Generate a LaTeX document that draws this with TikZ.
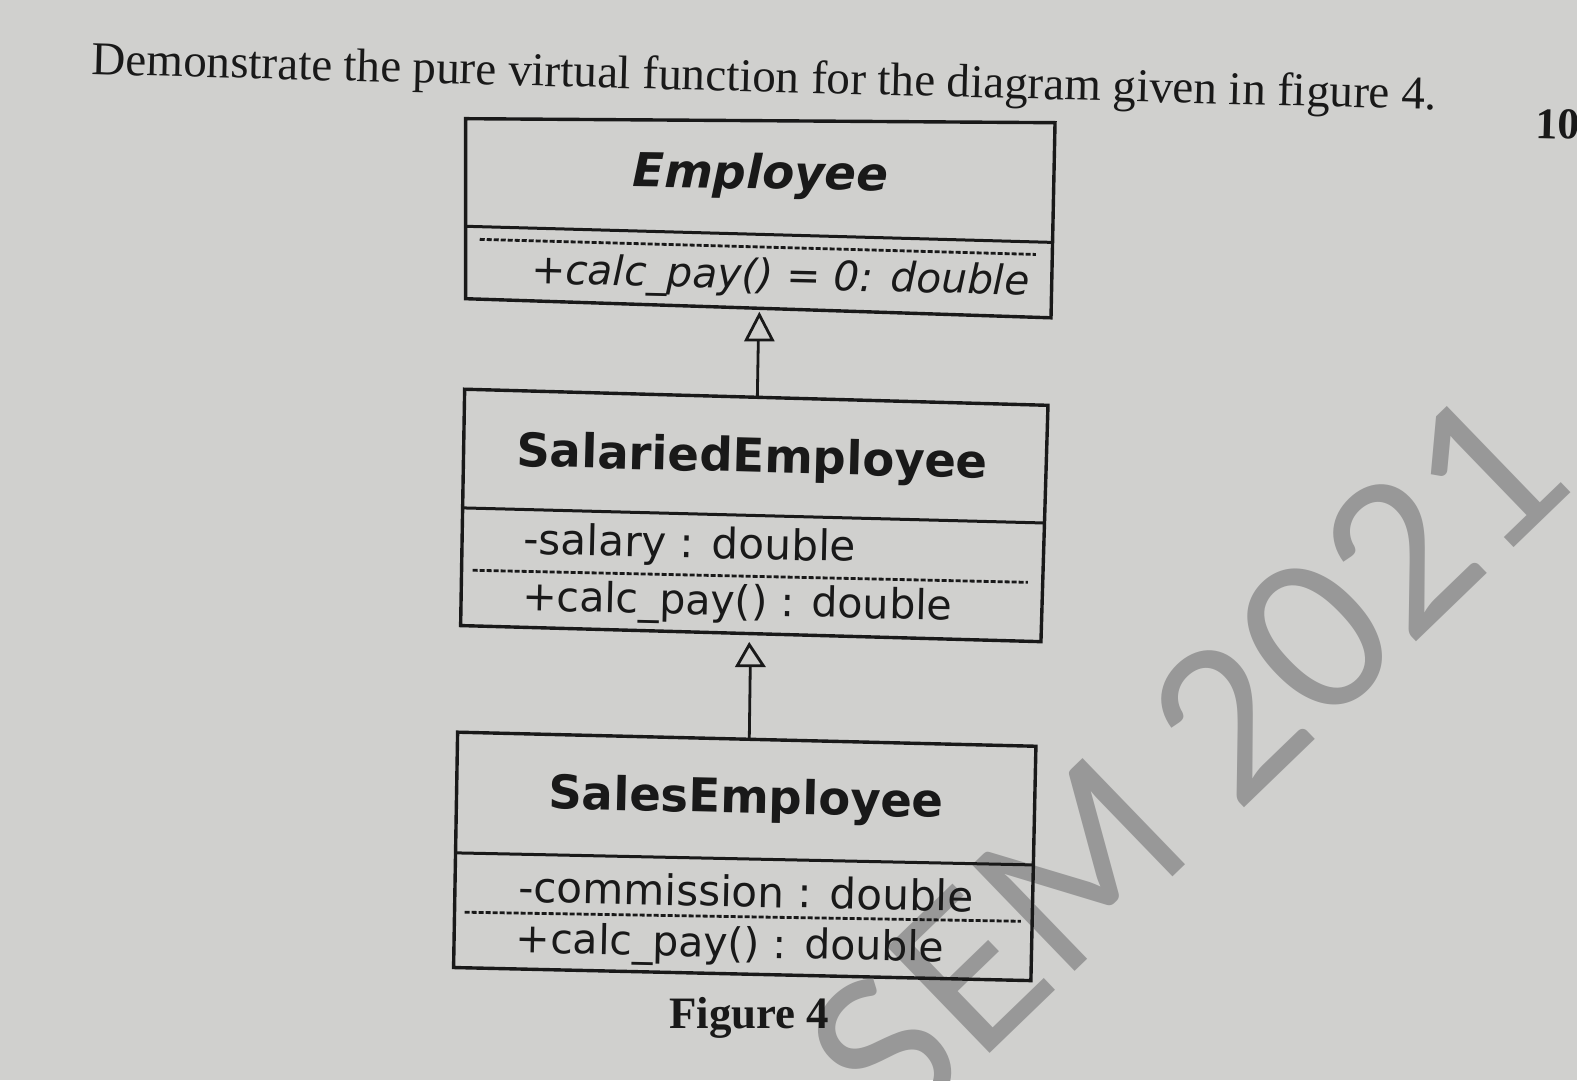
\documentclass[tikz,border=0pt]{standalone}
\usepackage{fontspec}
\setmainfont{Liberation Serif}
\newfontfamily\umlfont{DejaVu Sans}
\newfontfamily\stampfont{Lato}
\usetikzlibrary{calc}
\definecolor{paper}{RGB}{208,208,206}
\definecolor{ink}{RGB}{25,25,25}
\definecolor{stampgray}{RGB}{152,152,152}
\newcommand{\fitw}[2]{\resizebox{#1pt}{!}{#2}}
\begin{document}
\begin{tikzpicture}[x=1.0057pt,y=-1.0057pt,
  boxline/.style={line width=3.4pt, draw=ink, line join=miter},
  divline/.style={line width=3pt, draw=ink},
  dashline/.style={line width=2.8pt, draw=ink, dash pattern=on 5pt off 2pt},
  uml/.style={inner sep=0pt, text=ink, font=\umlfont},
  serif/.style={inner sep=0pt, text=ink},
  tri/.style={line width=2.8pt, draw=ink, fill=paper, line join=miter},
  conn/.style={line width=2.8pt, draw=ink}]

\fill[paper] (0,0) rectangle (1568,1074);
\useasboundingbox (0,0) rectangle (1568,1074);

% watermark stamp
\node[inner sep=0pt, text=stampgray, rotate=44, anchor=base east,
  font=\stampfont\fontsize{206}{206}\selectfont] (stamp) at (1572,480) {SEM 2021};

% title
\node[serif, rotate=-1.5] (title) at (760,80)
  {\fitw{1345}{\fontsize{40}{40}\selectfont Demonstrate the pure virtual function for the diagram given in figure 4.}};
\node[serif, anchor=west, rotate=-1.5, font=\fontsize{44}{44}\selectfont\bfseries] (marks) at (1527,123) {10};

% ---------- Employee ----------
\coordinate (e-tl) at (463,118); \coordinate (e-tr) at (1049,122);
\coordinate (e-br) at (1045,316); \coordinate (e-bl) at (463,297);
\coordinate (e-dl) at (463,225); \coordinate (e-dr) at (1046,241);
\coordinate (e-sl) at (477,238); \coordinate (e-sr) at (1030,253);
\draw[boxline] (e-tl) -- (e-tr) -- (e-br) -- (e-bl) -- cycle;
\draw[divline] (e-dl) -- (e-dr);
\draw[dashline] (e-sl) -- (e-sr);
\node[uml, rotate=-0.8] (e-name) at (756,175) {\fitw{256}{\bfseries\itshape Employee}};
\node[uml, rotate=-1.3] (e-op) at (776,277) {\fitw{498}{\itshape +calc\_pay() = 0: double}};

% ---------- SalariedEmployee ----------
\coordinate (s-tl) at (462,387); \coordinate (s-tr) at (1042,403);
\coordinate (s-br) at (1035,638); \coordinate (s-bl) at (458,622);
\coordinate (s-dl) at (460,505); \coordinate (s-dr) at (1038,520);
\coordinate (s-sl) at (470,567); \coordinate (s-sr) at (1022,579);
\draw[boxline] (s-tl) -- (s-tr) -- (s-br) -- (s-bl) -- cycle;
\draw[divline] (s-dl) -- (s-dr);
\draw[dashline] (s-sl) -- (s-sr);
\node[uml, rotate=-1.5] (s-name) at (748,457) {\fitw{471}{\bfseries SalariedEmployee}};
\node[uml, rotate=-1.3] (s-attr) at (686,543) {\fitw{332}{-salary : double}};
\node[uml, rotate=-1.3] (s-op) at (733,601) {\fitw{430}{+calc\_pay() : double}};

% ---------- SalesEmployee ----------
\coordinate (p-tl) at (455,728); \coordinate (p-tr) at (1030,742);
\coordinate (p-br) at (1025,975); \coordinate (p-bl) at (451,962);
\coordinate (p-dl) at (453,848); \coordinate (p-dr) at (1028,860);
\coordinate (p-sl) at (462,907); \coordinate (p-sr) at (1015,916);
\draw[boxline] (p-tl) -- (p-tr) -- (p-br) -- (p-bl) -- cycle;
\draw[divline] (p-dl) -- (p-dr);
\draw[dashline] (p-sl) -- (p-sr);
\node[uml, rotate=-1.3] (p-name) at (742,796) {\fitw{395}{\bfseries SalesEmployee}};
\node[uml, rotate=-1.2] (p-attr) at (742,886) {\fitw{455}{-commission : double}};
\node[uml, rotate=-1.2] (p-op) at (726,941) {\fitw{428}{+calc\_pay() : double}};

% ---------- generalization arrows ----------
\coordinate (t1-apex) at (755,313); \coordinate (t1-l) at (742,338); \coordinate (t1-r) at (768,338);
\coordinate (t1-base) at (754,338); \coordinate (s-top) at (753,395);
\draw[conn] (s-top) -- (t1-base);
\draw[tri] (t1-apex) -- (t1-r) -- (t1-l) -- cycle;

\coordinate (t2-apex) at (745,641); \coordinate (t2-l) at (733,662); \coordinate (t2-r) at (759,662);
\coordinate (t2-base) at (746,662); \coordinate (p-top) at (745,735);
\draw[conn] (p-top) -- (t2-base);
\draw[tri] (t2-apex) -- (t2-r) -- (t2-l) -- cycle;

% caption
\node[serif] (caption) at (745,1012) {\fitw{160}{\bfseries Figure 4}};
\end{tikzpicture}
\end{document}
